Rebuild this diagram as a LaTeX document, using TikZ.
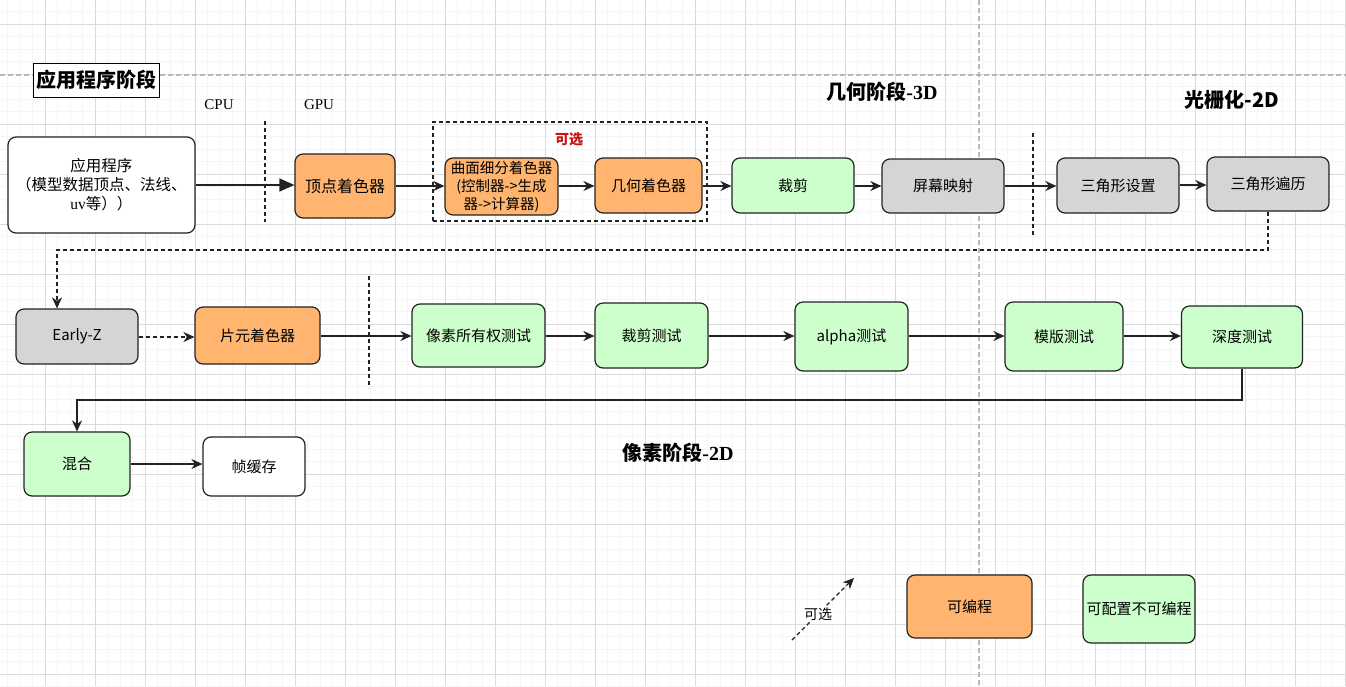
\documentclass[tikz,border=0pt]{standalone}
\usepackage{fontspec}
\setmainfont{Noto Sans CJK SC}
\newfontfamily\seriffont{Liberation Serif}
\usetikzlibrary{arrows.meta}
\definecolor{orangefill}{HTML}{FFB570}
\definecolor{greenfill}{HTML}{CCFFCC}
\definecolor{greyfill}{HTML}{D5D5D5}
\definecolor{strokec}{HTML}{222222}
\definecolor{redlabel}{HTML}{CC1111}
\begin{document}
\begin{tikzpicture}[x=1pt,y=-1pt,
  box/.style={draw=strokec, line width=1.2pt, rounded corners=8pt, align=center, inner sep=1pt, font=\fontsize{15}{18}\selectfont},
  prog/.style={box, fill=orangefill},
  conf/.style={box, fill=greenfill},
  fixed/.style={box, fill=greyfill},
  plain/.style={box, fill=white},
  conn/.style={draw=strokec, line width=1.3pt, -{Stealth[length=11pt,width=10pt,inset=3.5pt]}},
  dconn/.style={conn, dash pattern=on 4pt off 3pt},
  sep/.style={draw=strokec, line width=1.1pt, dash pattern=on 4pt off 3pt},
  guide/.style={draw=black!28, line width=1.1pt, dash pattern=on 5pt off 3pt},
  title/.style={font=\fontsize{20}{24}\selectfont\bfseries, inner sep=0pt},
  minorgrid/.style={draw=black!4, line width=0.5pt},
  majorgrid/.style={draw=black!14, line width=0.6pt}]
\useasboundingbox (0,0) rectangle (1346,686);
\fill[white] (0,0) rectangle (1346,686);
% grid
\foreach \i in {0,...,107} {\draw[minorgrid] ({7.5+12.5*\i},0) -- ++(0,686);}
\foreach \j in {0,...,54} {\draw[minorgrid] (0,{11.5+12.5*\j}) -- ++(1346,0);}
\foreach \i in {0,...,26} {\draw[majorgrid] ({45+50*\i},0) -- ++(0,686);}
\foreach \j in {0,...,13} {\draw[majorgrid] (0,{24+50*\j}) -- ++(1346,0);}
% guide lines
\draw[guide] (0,75) -- (1346,75);
\draw[guide] (979,0) -- (979,686);

% titles
\node[title, draw=black, line width=1pt, fill=white, minimum width=126pt, minimum height=34pt] (ttl) at (96,80) {应用程序阶段};
\node[title] (geo) at (882,92) {几何阶段{\seriffont\bfseries -3D}};
\node[title] (ras) at (1232,100) {光栅化-2D};
\node[title] (pix) at (678,453) {像素阶段{\seriffont\bfseries -2D}};
\node[font=\seriffont\fontsize{15}{18}\selectfont] (cpu) at (219,105) {CPU};
\node[font=\seriffont\fontsize{15}{18}\selectfont] (gpu) at (319,105) {GPU};

% row 1
\node[plain, minimum width=187pt, minimum height=96pt, font=\fontsize{15.5}{19}\selectfont] (app) at (101.5,185) {应用程序\\（模型数据顶点、法线、\\{\seriffont uv}等））};
\node[prog, minimum width=100pt, minimum height=64pt, font=\fontsize{16}{19}\selectfont] (vs) at (345,186) {顶点着色器};
\node[draw=strokec, line width=1.1pt, dash pattern=on 4pt off 3pt, minimum width=274pt, minimum height=99pt, inner sep=0pt] (grp) at (570,171.5) {};
\node[font=\fontsize{14}{16}\selectfont\bfseries, text=redlabel] (opt) at (569,139) {可选};
\node[prog, minimum width=113pt, minimum height=57pt, inner sep=0pt, font=\fontsize{14.5}{18}\selectfont] (tess) at (501.5,186.5) {曲面细分着色器\\(控制器->生成\\器->计算器)};
\node[prog, minimum width=107pt, minimum height=55pt] (gs) at (648.5,185.5) {几何着色器};
\node[conf, minimum width=122pt, minimum height=55pt] (clip) at (793,185.5) {裁剪};
\node[fixed, minimum width=122pt, minimum height=54pt] (scr) at (943,186) {屏幕映射};
\node[fixed, minimum width=122pt, minimum height=55pt] (tset) at (1118,185.5) {三角形设置};
\node[fixed, minimum width=122pt, minimum height=54pt] (ttrav) at (1268,184) {三角形遍历};

\draw[sep] (265,121) -- (265,222);
\draw[sep] (1033,133) -- (1033,235);

\draw[draw=strokec, line width=1.3pt, -{Triangle[length=15pt,width=13pt]}] (app.east |- 0,185) -- (vs.west |- 0,185);
\draw[conn] (vs.east |- 0,186) -- (tess.west |- 0,186);
\draw[conn] (tess.east |- 0,186) -- (gs.west |- 0,186);
\draw[conn] (gs.east |- 0,186) -- (clip.west |- 0,186);
\draw[conn] (clip.east |- 0,186) -- (scr.west |- 0,186);
\draw[conn] (scr.east |- 0,186) -- (tset.west |- 0,186);
\draw[conn] (tset.east |- 0,185) -- (ttrav.west |- 0,185);

% row 2
\node[fixed, minimum width=122pt, minimum height=55pt] (ez) at (77,336.5) {Early-Z};
\node[prog, minimum width=125pt, minimum height=57pt] (frag) at (257.5,335.5) {片元着色器};
\node[conf, minimum width=133pt, minimum height=63pt] (own) at (478.5,335.5) {像素所有权测试};
\node[conf, minimum width=113pt, minimum height=65pt] (scis) at (651.5,335.5) {裁剪测试};
\node[conf, minimum width=113pt, minimum height=69pt] (alpha) at (851.5,336.5) {alpha测试};
\node[conf, minimum width=118pt, minimum height=69pt] (sten) at (1064,336.5) {模版测试};
\node[conf, minimum width=121pt, minimum height=62pt] (depth) at (1242,337) {深度测试};

\draw[sep] (369,276) -- (369,388);

\coordinate (c1) at (1268,250);
\coordinate (c2) at (57,250);
\draw[dconn] (ttrav.south) -- (c1) -- (c2) -- (c2 |- ez.north);
\draw[dconn] (ez.east |- 0,337) -- (frag.west |- 0,337);
\draw[conn] (frag.east |- 0,336) -- (own.west |- 0,336);
\draw[conn] (own.east |- 0,336) -- (scis.west |- 0,336);
\draw[conn] (scis.east |- 0,336) -- (alpha.west |- 0,336);
\draw[conn] (alpha.east |- 0,336) -- (sten.west |- 0,336);
\draw[conn] (sten.east |- 0,336) -- (depth.west |- 0,336);

% row 3
\node[conf, minimum width=106pt, minimum height=64pt] (blend) at (77,464) {混合};
\node[plain, minimum width=102pt, minimum height=59pt] (fb) at (254,466.5) {帧缓存};
\coordinate (c3) at (1242,400);
\coordinate (c4) at (77,400);
\draw[conn] (depth.south) -- (c3) -- (c4) -- (blend.north);
\draw[conn] (blend.east |- 0,464) -- (fb.west |- 0,464);

% legend
\coordinate (d1) at (792,640);
\coordinate (d2) at (854,578);
\draw[dconn, line width=1.2pt] (d1) -- (d2) node[pos=0.42, fill=white, inner sep=1pt, font=\fontsize{14}{16}\selectfont, text=black] (optl) {可选};
\node[prog, minimum width=125pt, minimum height=63pt] (lprog) at (969.5,606.5) {可编程};
\node[conf, minimum width=112pt, minimum height=68pt, inner sep=0pt] (lconf) at (1139,609) {可配置不可编程};
\end{tikzpicture}
\end{document}
